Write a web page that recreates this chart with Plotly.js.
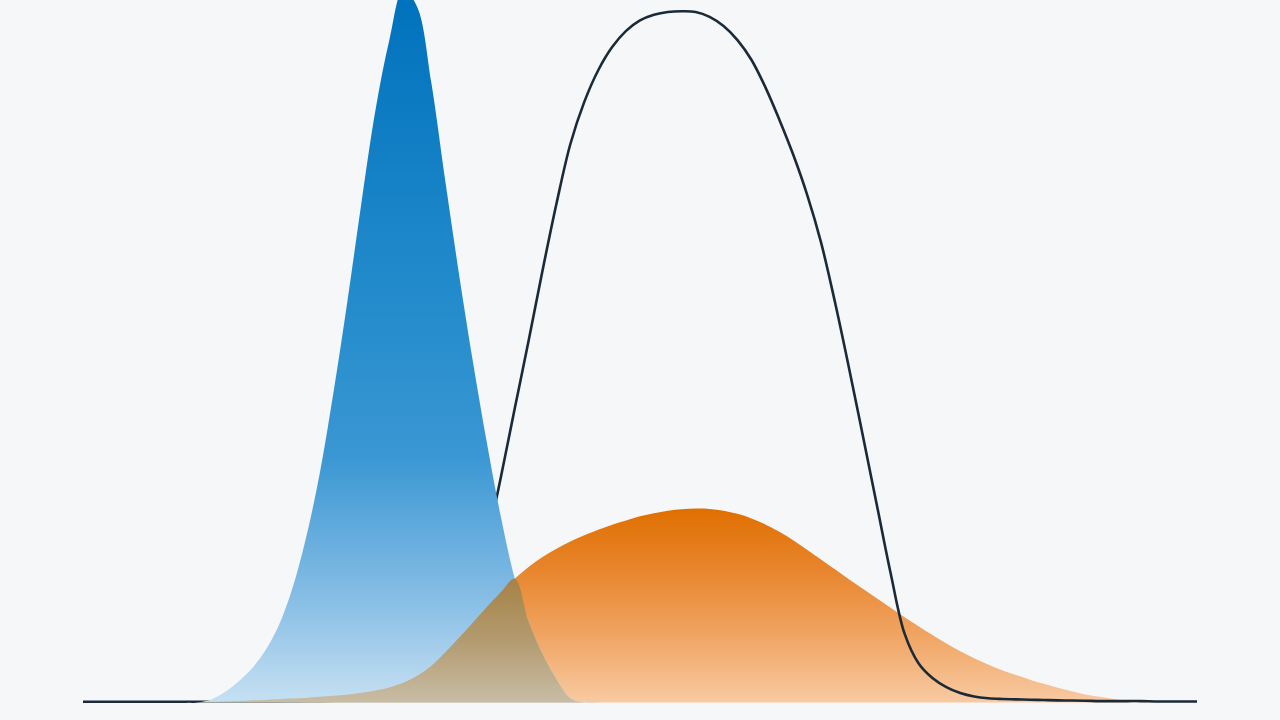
<!DOCTYPE html>
<html>
<head>
<meta charset="utf-8">
<script src="https://cdn.plot.ly/plotly-3.0.1.min.js"></script>
<style>
  html, body { margin: 0; padding: 0; background: #f5f7f9; }
  #chart { width: 1280px; height: 720px; }
</style>
</head>
<body>
<div id="chart"></div>
<script>
// Shared x grid (arbitrary units)
const xGrid = [
  0, 0.5, 1, 1.5, 2, 2.5, 3, 3.5, 4, 4.5,
  5, 5.5, 6, 6.5, 7, 7.5, 8, 8.5, 9, 9.5,
  10, 10.5, 11, 11.5, 12, 12.5, 13, 13.5, 14, 14.5,
  15, 15.5, 16, 16.5, 17, 17.5, 18, 18.5, 19, 19.5,
  20, 20.5, 21, 21.5, 22, 22.5, 23, 23.5, 24, 24.5,
  25, 25.5, 26, 26.5, 27, 27.5, 28, 28.5, 29, 29.5,
  30, 30.5, 31, 31.5, 32, 32.5, 33, 33.5, 34, 34.5,
  35, 35.5, 36, 36.5, 37, 37.5, 38, 38.5, 39, 39.5,
  40
];

// Narrow blue density
const blueSeries = [
  0, 0, 0, 0, 0, 0, 0, 0, 0, 0.3,
  1.25, 2.7, 4.55, 7.1, 10.7, 16.0, 23.3, 32.6, 44.3, 57.3,
  71.2, 84.3, 94.3, 101.5, 99.0, 88.4, 74.5, 61.0, 48.5, 37.0,
  26.5, 17.7, 11.5, 6.9, 3.3, 0.6, 0, 0, 0, 0,
  0, 0, 0, 0, 0, 0, 0, 0, 0, 0,
  0, 0, 0, 0, 0, 0, 0, 0, 0, 0,
  0, 0, 0, 0, 0, 0, 0, 0, 0, 0,
  0, 0, 0, 0, 0, 0, 0, 0, 0, 0,
  0
];

// Wide orange density
const orangeSeries = [
  0, 0, 0, 0, 0, 0, 0, 0, 0, 0.1,
  0.15, 0.2, 0.3, 0.35, 0.45, 0.55, 0.65, 0.8, 0.95, 1.15,
  1.4, 1.7, 2.15, 2.8, 3.8, 5.2, 7.1, 9.2, 11.4, 13.6,
  15.7, 17.6, 19.3, 20.7, 21.9, 22.9, 23.8, 24.6, 25.3, 25.9,
  26.5, 26.95, 27.3, 27.5, 27.6, 27.55, 27.3, 26.85, 26.2, 25.35,
  24.3, 23.1, 21.75, 20.35, 18.95, 17.55, 16.2, 14.85, 13.5, 12.15,
  10.85, 9.6, 8.4, 7.3, 6.3, 5.4, 4.6, 3.9, 3.25, 2.65,
  2.1, 1.6, 1.15, 0.8, 0.5, 0.25, 0.1, 0, 0, 0,
  0
];

// Flat-topped outline curve
const outlineSeries = [
  0.1, 0.1, 0.1, 0.1, 0.1, 0.1, 0.1, 0.1, 0.1, 0.1,
  0.1, 0.1, 0.1, 0.1, 0.12, 0.15, 0.18, 0.2, 0.25, 0.3,
  0.4, 0.5, 0.7, 1.0, 1.7, 2.9, 4.5, 7.2, 13.0, 22.5,
  32.0, 41.8, 51.5, 61.5, 71.0, 79.5, 85.5, 90.0, 93.3, 95.6,
  97.1, 97.9, 98.3, 98.4, 98.3, 97.6, 96.3, 94.3, 91.5, 87.6,
  83.0, 78.0, 72.3, 65.5, 57.0, 47.7, 38.0, 28.2, 18.4, 9.8,
  5.6, 3.5, 2.2, 1.35, 0.85, 0.6, 0.5, 0.45, 0.4, 0.35,
  0.3, 0.28, 0.25, 0.2, 0.2, 0.2, 0.2, 0.15, 0.15, 0.15,
  0.15
];

// Region where both densities overlap (derived from the two series)
const overlapSeries = blueSeries.map((v, i) => Math.min(v, orangeSeries[i]));

const orangeMax = Math.max(...orangeSeries);
const blueMax = 100;
const overlapMax = Math.max(...overlapSeries);

const traces = [
  {
    x: xGrid, y: orangeSeries, type: 'scatter', mode: 'lines',
    line: {width: 0, shape: 'spline', smoothing: 1},
    fill: 'tozeroy',
    fillgradient: {
      type: 'vertical', start: 0, stop: orangeMax,
      colorscale: [[0, '#f8caa2'], [0.35, '#f0a462'], [0.7, '#e7842a'], [1, '#e06f00']]
    },
    hoverinfo: 'skip', showlegend: false
  },
  {
    x: xGrid, y: outlineSeries, type: 'scatter', mode: 'lines',
    line: {width: 2.6, color: '#1b2a38', shape: 'spline', smoothing: 1},
    hoverinfo: 'skip', showlegend: false
  },
  {
    x: xGrid, y: blueSeries, type: 'scatter', mode: 'lines',
    line: {width: 0, shape: 'spline', smoothing: 1},
    fill: 'tozeroy',
    fillgradient: {
      type: 'vertical', start: 0, stop: blueMax,
      colorscale: [[0, '#c6e0f2'], [0.15, '#86bde5'], [0.35, '#3a97d3'], [0.6, '#218acb'], [1, '#0072bd']]
    },
    hoverinfo: 'skip', showlegend: false
  },
  {
    x: xGrid, y: overlapSeries, type: 'scatter', mode: 'lines',
    line: {width: 0, shape: 'spline', smoothing: 1},
    fill: 'tozeroy',
    fillgradient: {
      type: 'vertical', start: 0, stop: overlapMax,
      colorscale: [[0, '#c8bda5'], [0.5, '#b39b70'], [1, '#a68246']]
    },
    hoverinfo: 'skip', showlegend: false
  }
];

const layout = {
  width: 1280, height: 720,
  margin: {l: 83, r: 83, t: 0, b: 14, pad: 0},
  paper_bgcolor: '#f5f7f9',
  plot_bgcolor: '#f5f7f9',
  showlegend: false,
  xaxis: {range: [0, 40], showgrid: false, zeroline: false, showline: false,
          showticklabels: false, ticks: '', fixedrange: true},
  yaxis: {range: [-0.5, 100], showgrid: false, zeroline: false, showline: false,
          showticklabels: false, ticks: '', fixedrange: true}
};

Plotly.newPlot('chart', traces, layout, {displayModeBar: false, staticPlot: true});
</script>
</body>
</html>
